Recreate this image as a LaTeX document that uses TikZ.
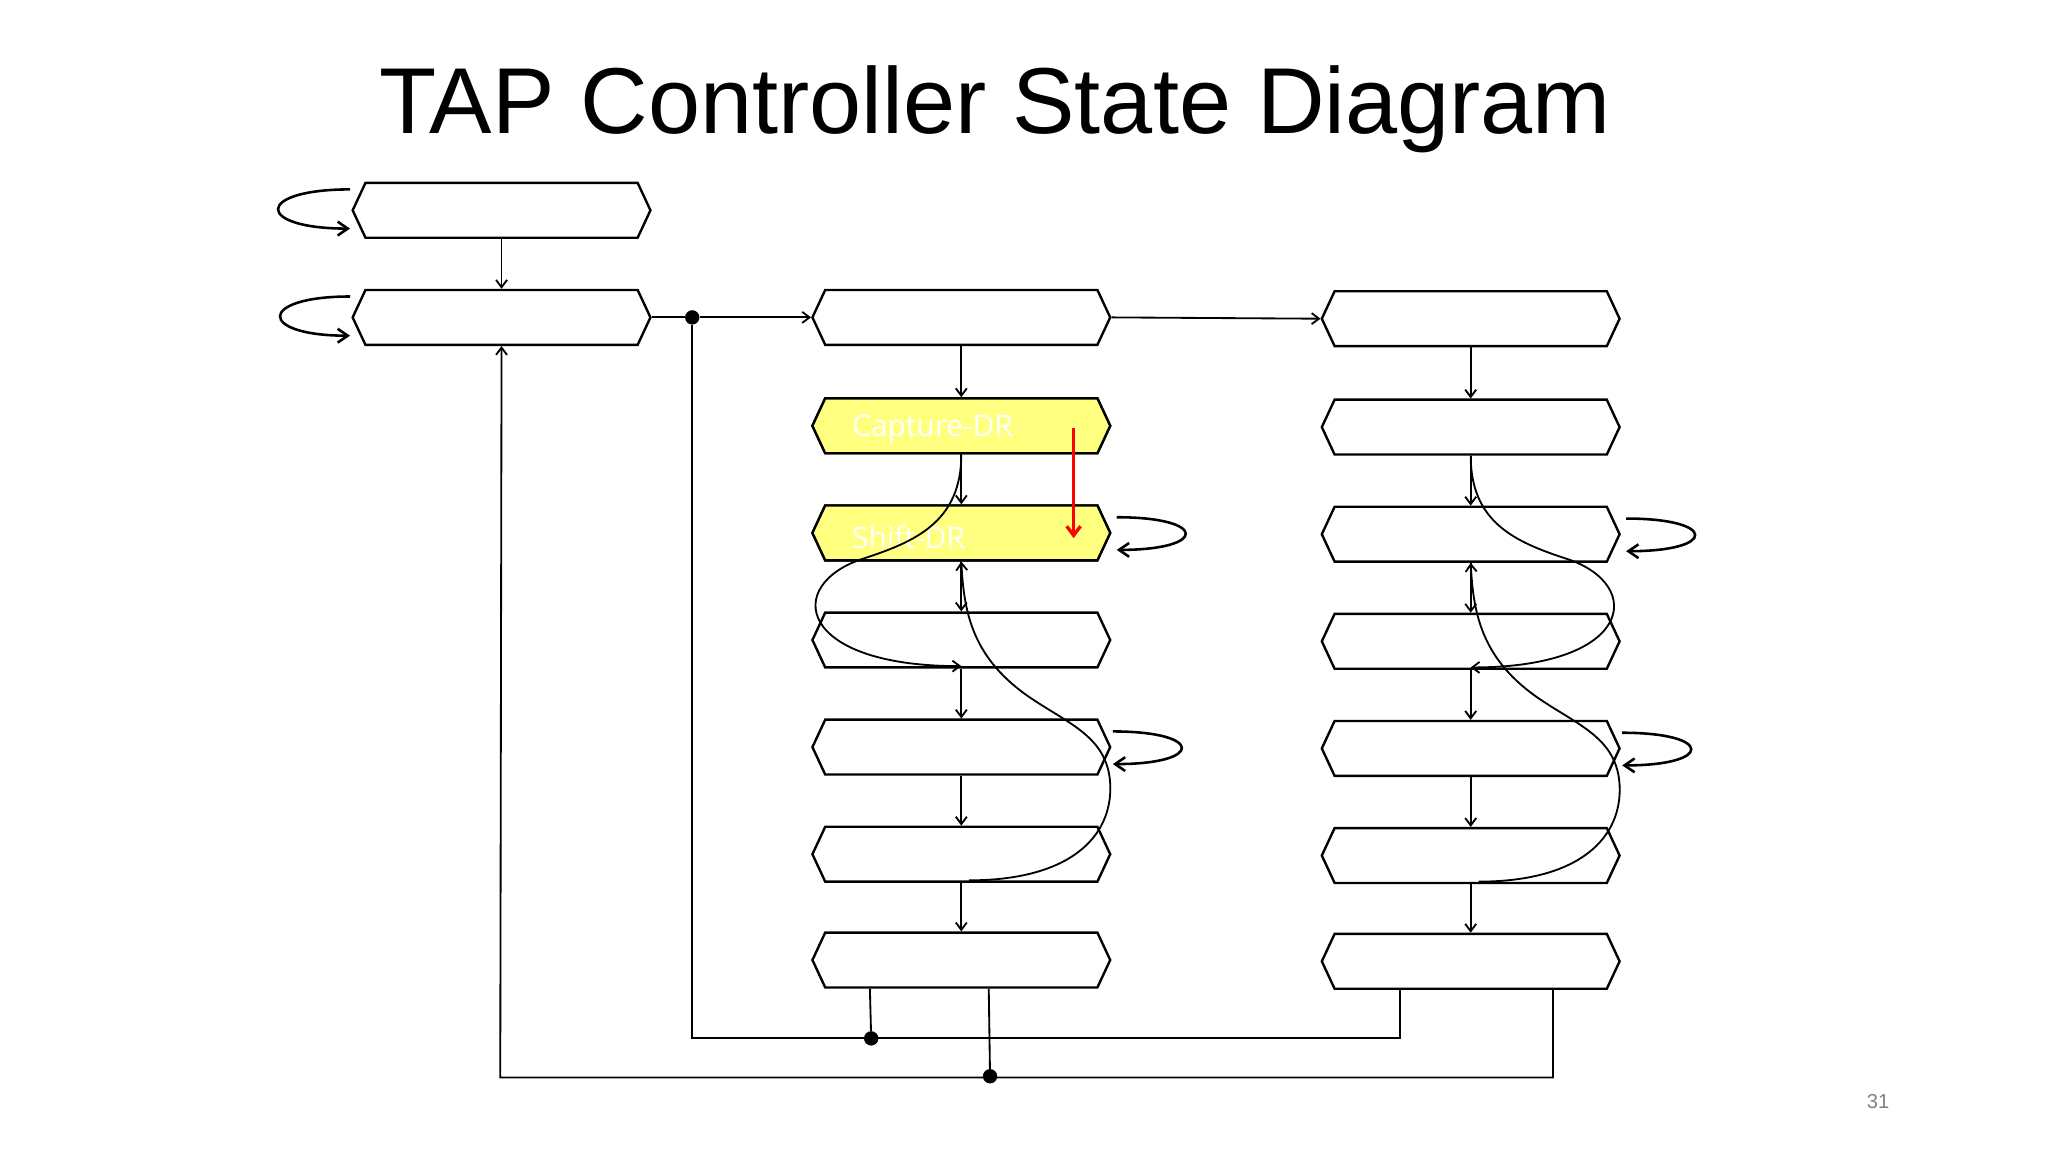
\documentclass[tikz,border=0pt]{standalone}
\usepackage{fontspec}
\setmainfont{Liberation Sans}
\newfontfamily\lblfont{Open Sans}
\usetikzlibrary{shapes.symbols,arrows.meta}
\begin{document}
\begin{tikzpicture}[x=0.05cm,y=-0.05cm,
  hexbox/.style={shape=signal,signal to=west and east,signal pointer angle=130,minimum width=11.4cm,minimum height=2.1cm,inner sep=0pt,draw,line width=2.6pt,fill=white},
  hl/.style={fill={rgb,255:red,255;green,255;blue,128}},
  conn/.style={line width=2pt},
  arr/.style={conn,-{Straight Barb[length=8pt,width=12pt]}},
  loopa/.style={line width=2.8pt,-{Straight Barb[length=11pt,width=15pt]}},
  dot/.style={circle,fill,inner sep=0pt,minimum size=0.55cm},
  lbl/.style={font=\lblfont\fontsize{32.5}{34}\selectfont,text=white,anchor=west}]
\useasboundingbox (0,0) rectangle (1568,882);
\node at (762,84) {\fontsize{102}{116}\selectfont TAP Controller State Diagram};
\node at (1438,843) {\color{gray}\fontsize{22}{24}\selectfont 31};
% column 1
\node[hexbox] (a1) at (384,161) {};
\node[hexbox] (a2) at (384,243) {};
% column 2 and 3
\foreach \i/\y in {1/243,2/326,3/408,4/490,5/572,6/654,7/735}{
  \node[hexbox] (c\i) at (736,\y) {};
  \node[hexbox] (d\i) at (1126,\y+1) {};
}
\node[hexbox,hl] at (c2) {};
\node[hexbox,hl] at (c3) {};
\node[lbl] (t1) at (650,329) {Capture-DR};
\node[lbl] (t2) at (650,411) {Shift-DR};
% vertical arrows
\draw[arr] (a1.south) -- (a2.north);
\foreach \i/\j in {1/2,2/3,3/4,4/5,5/6,6/7}{
  \draw[arr] (c\i.south) -- (c\j.north);
  \draw[arr] (d\i.south) -- (d\j.north);
}
% horizontal
\node[dot] (p1) at (530,243) {};
\draw[conn] (a2.east) -- (p1);
\draw[arr] (p1) -- (c1.west);
\draw[arr] (c1.east) -- (d1.west);
\coordinate (q1) at (530,795);
\coordinate (q2) at (1072,795);
\node[dot] (p2) at (667,795) {};
\draw[conn] (p1) -- (q1) -- (q2) -- (1072,757);
\draw[conn] (p2) -- (666,757);
\coordinate (r1) at (383,825);
\coordinate (r2) at (1189,825);
\node[dot] (p3) at (758,824) {};
\draw[conn] (p3) -- (757,757);
\draw[arr] (1189,757) -- (r2) -- (r1) -- (a2.south);
% left self loops
\draw[loopa] (268,145) .. controls (195,145) and (195,175) .. (268,175);
\draw[loopa] (268,227) .. controls (197,227) and (197,257) .. (268,257);
% right self loops
\draw[loopa] (855,396) .. controls (925,396) and (925,421) .. (855,421);
\draw[loopa] (852,560) .. controls (922,560) and (922,585) .. (852,585);
\draw[loopa] (1245,397) .. controls (1315,397) and (1315,422) .. (1245,422);
\draw[loopa] (1242,561) .. controls (1312,561) and (1312,586) .. (1242,586);
% curves col2
\draw[arr] (c2.south) .. controls (736,400) and (700,415) .. (660,428) .. controls (600,448) and (610,510) .. (736,510);
\draw[arr] (742,674) .. controls (820,674) and (852,640) .. (850,600) .. controls (848,565) and (820,555) .. (790,535) .. controls (745,505) and (738,470) .. (c3.south);
% curves col3
\draw[arr] (d2.south) .. controls (1126,400) and (1160,415) .. (1200,428) .. controls (1260,448) and (1250,511) .. (1126,511);
\draw[arr] (1132,675) .. controls (1210,675) and (1242,641) .. (1240,601) .. controls (1238,566) and (1210,556) .. (1180,536) .. controls (1135,506) and (1128,471) .. (d3.south);
% red arrow
\draw[line width=3.6pt,red,-{Straight Barb[length=10pt,width=15pt]}] (822,328) -- (822,412);
\end{tikzpicture}
\end{document}
